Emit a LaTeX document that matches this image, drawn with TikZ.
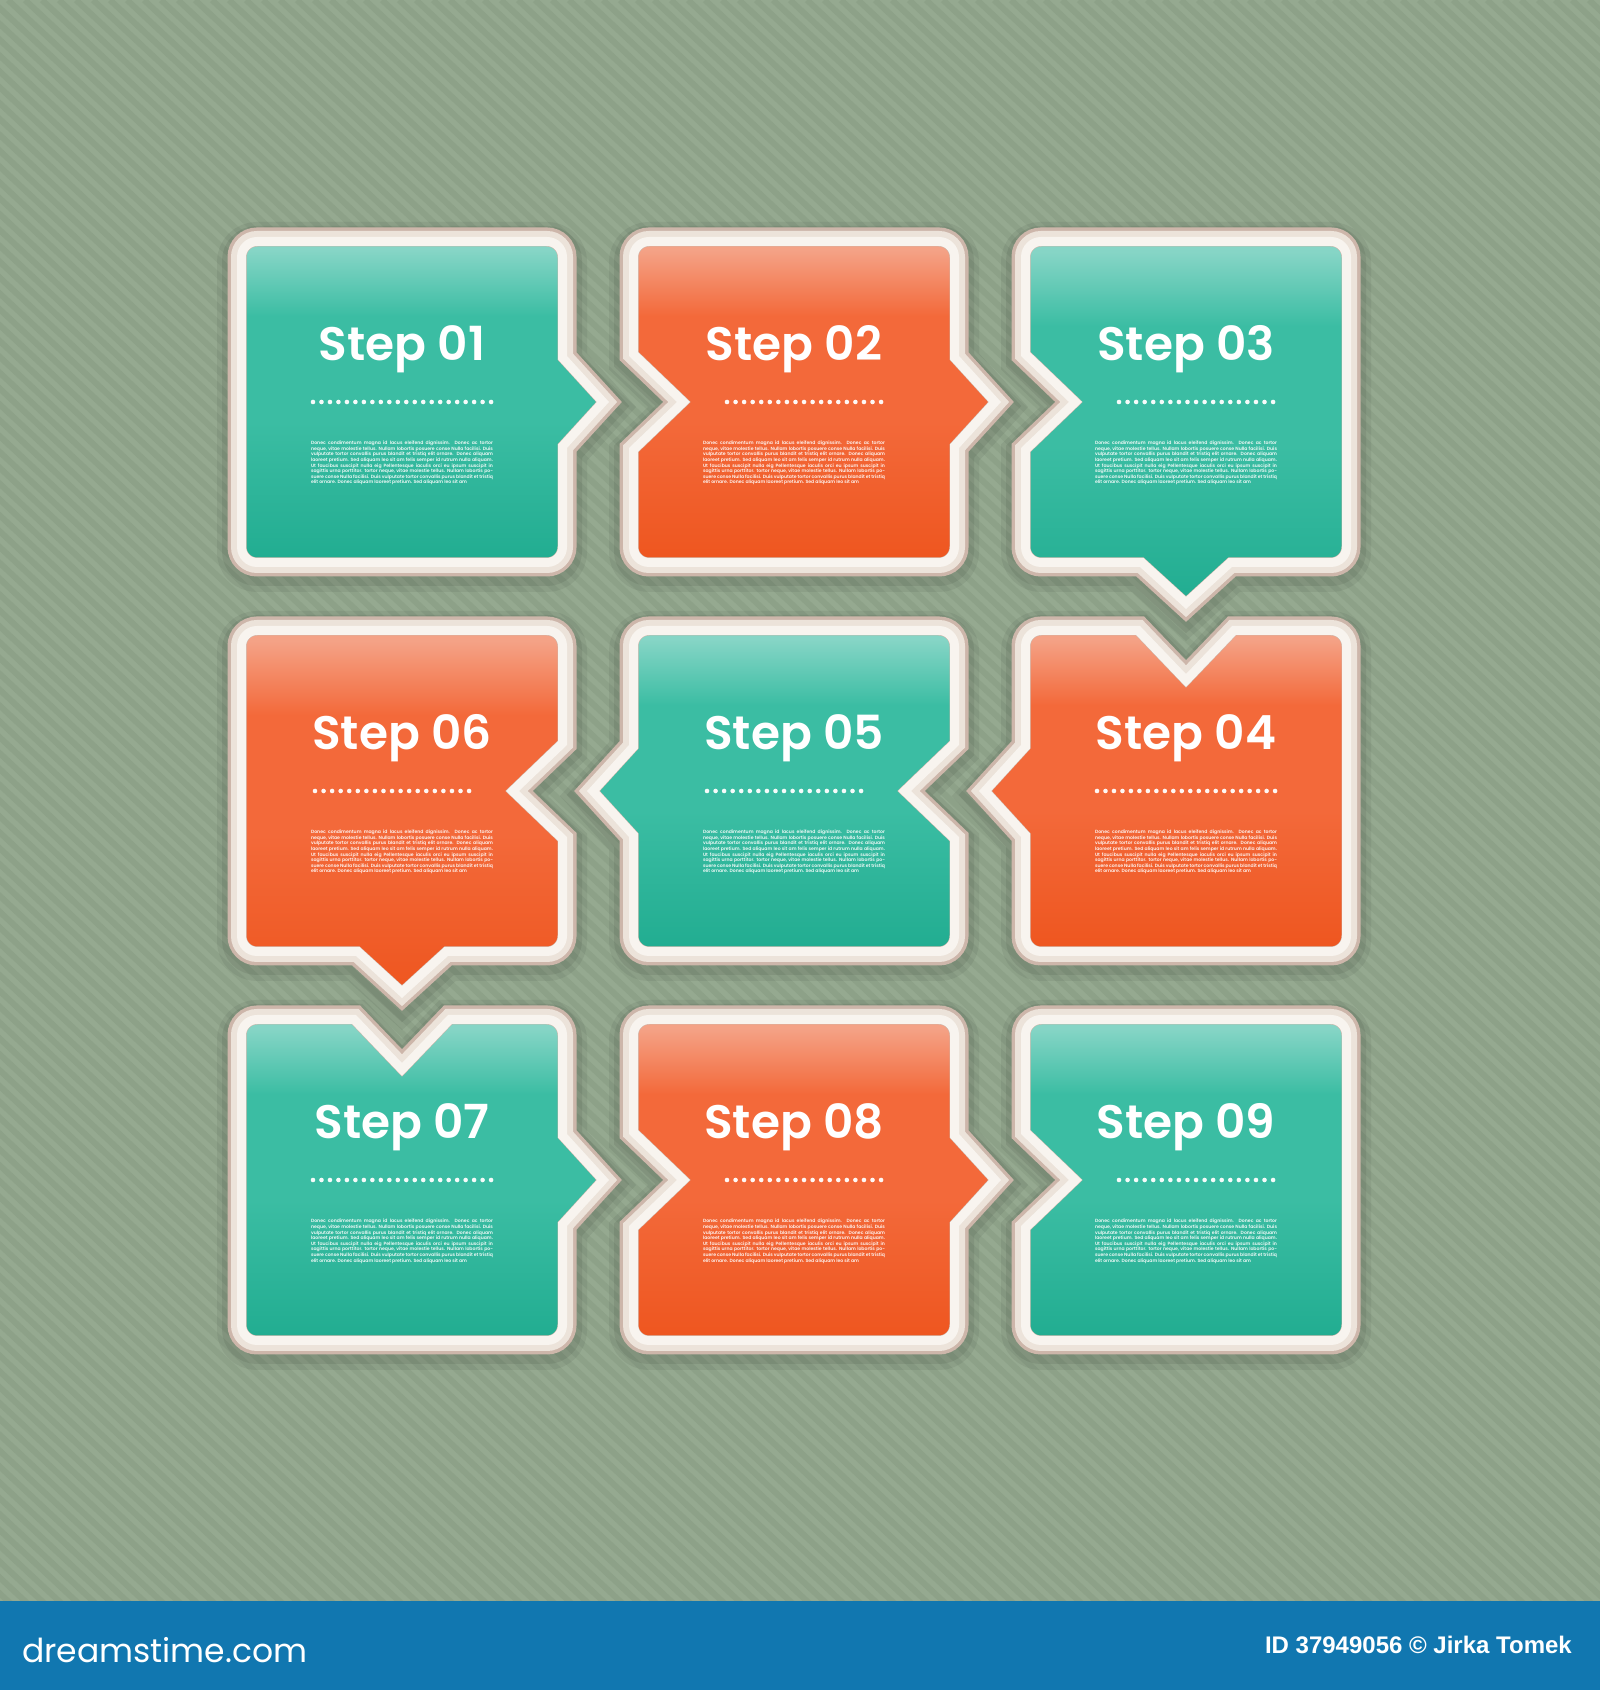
\documentclass[tikz,border=0pt]{standalone}
\usepackage{fontspec}
\setmainfont{Poppins}
\newfontfamily\titlefont{Poppins SemiBold}
\newfontfamily\creditfont{Liberation Sans}
\definecolor{bgc}{HTML}{95A990}
\definecolor{stripec}{HTML}{8B9F86}
\definecolor{tealA}{HTML}{86D5C6}
\definecolor{tealB}{HTML}{3BBDA3}
\definecolor{tealC}{HTML}{20AC90}
\definecolor{orangeA}{HTML}{F4A286}
\definecolor{orangeB}{HTML}{F3693A}
\definecolor{orangeC}{HTML}{EE551E}
\definecolor{ringout}{HTML}{CDB6AA}
\definecolor{ringmid}{HTML}{ECE3DA}
\definecolor{ringin}{HTML}{F8F4EF}
\definecolor{barc}{HTML}{1177B0}
\pgfdeclareverticalshading{tealtile}{100bp}{color(0bp)=(tealC); color(25bp)=(tealC); color(47bp)=(tealB); color(63bp)=(tealB); color(73bp)=(tealA); color(100bp)=(tealA)}
\pgfdeclareverticalshading{orangetile}{100bp}{color(0bp)=(orangeC); color(25bp)=(orangeC); color(47bp)=(orangeB); color(63bp)=(orangeB); color(73bp)=(orangeA); color(100bp)=(orangeA)}
\newcommand\tileA{165}
\newcommand\tileH{46}
\newcommand\tileR{20}
% outline of one tile: centre, then top/right/bottom/left offsets (+ tab, - notch)
\newcommand\tilepath[6]{({#1-\tileA+\tileR},{#2+\tileA}) -- ({#1-\tileH},{#2+\tileA}) -- ({#1},{#2+\tileA+(#3)}) -- ({#1+\tileH},{#2+\tileA}) -- ({#1+\tileA-\tileR},{#2+\tileA}) arc (90:0:\tileR) -- ({#1+\tileA},{#2+\tileH}) -- ({#1+\tileA+(#4)},{#2}) -- ({#1+\tileA},{#2-\tileH}) -- ({#1+\tileA},{#2-\tileA+\tileR}) arc (0:-90:\tileR) -- ({#1+\tileH},{#2-\tileA}) -- ({#1},{#2-\tileA-(#5)}) -- ({#1-\tileH},{#2-\tileA}) -- ({#1-\tileA+\tileR},{#2-\tileA}) arc (-90:-180:\tileR) -- ({#1-\tileA},{#2-\tileH}) -- ({#1-\tileA-(#6)},{#2}) -- ({#1-\tileA},{#2+\tileH}) -- ({#1-\tileA},{#2+\tileA-\tileR}) arc (180:90:\tileR) -- cycle}
\newcommand\lorem{Donec condimentum magna id lacus eleifend dignissim. Donec ac tortor neque, vitae molestie tellus. Nullam lobortis posuere conse Nulla facilisi. Duis vulputate tortor convallis purus blandit et tristiq elit ornare. Donec aliquam laoreet pretium. Sed aliquam leo sit am felis semper id rutrum nulla aliquam. Ut faucibus suscipit nulla eig Pellentesque iaculis orci eu ipsum suscipit in sagittis urna porttitor. tortor neque, vitae molestie tellus. Nullam lobortis posuere conse Nulla facilisi. Duis vulputate tortor convallis purus blandit et tristiq elit ornare. Donec aliquam laoreet pretium. Sed aliquam leo sit am}
\tikzset{
  stripe/.style={draw=stripec, line width=6pt, opacity=.8},
  tileshadow/.style={draw=black, opacity=.06, line width=40pt, line join=miter},
  tileshadow2/.style={draw=black, opacity=.07, line width=30pt, line join=miter},
  ringouter/.style={draw=ringout, line width=19pt, line join=miter},
  ringmiddle/.style={draw=ringmid, line width=12pt, line join=miter},
  ringinner/.style={draw=ringin, line width=18pt, line join=miter},
  steptitle/.style={text=white, font=\titlefont\fontsize{47}{50}\selectfont, inner sep=0pt, anchor=base},
  stepdot/.style={fill=white, opacity=.95},
  steptext/.style={text=white, opacity=.92, text width=182pt, align=justify, inner sep=0pt, anchor=north, font=\titlefont\fontsize{4.6}{5.6}\selectfont},
  bartext/.style={text=white, inner sep=0pt}
}
% centre x, centre y, top, right, bottom, left, colour, number, dot shift
\newcommand\steptile[9]{%
  \draw[tileshadow] \tilepath{#1}{#2-5}{#3}{#4}{#5}{#6};
  \draw[tileshadow2] \tilepath{#1}{#2-4}{#3}{#4}{#5}{#6};
  \shade[shading=#7tile] \tilepath{#1}{#2}{#3}{#4}{#5}{#6};
  \draw[ringouter] \tilepath{#1}{#2}{#3}{#4}{#5}{#6};
  \draw[ringmiddle] \tilepath{#1}{#2}{#3}{#4}{#5}{#6};
  \begin{scope}
    \clip \tilepath{#1}{#2}{#3}{#4}{#5}{#6};
    \draw[ringinner] \tilepath{#1}{#2}{#3}{#4}{#5}{#6};
  \end{scope}
  \node[steptitle] (step#8) at (#1,#2+41) {Step #8};
  \ifnum#9=0
    \foreach \k in {0,...,21} \fill[stepdot] ({#1-89+\k*8.48},#2) circle (2.3);
  \else
    \foreach \k in {0,...,18} \fill[stepdot] ({#1+(#9)-77+\k*8.56},#2) circle (2.3);
  \fi
  \node[steptext] (text#8) at (#1,#2-39) {\lorem};
}
\begin{document}
\begin{tikzpicture}[x=1pt,y=1pt]
  \useasboundingbox (0,0) rectangle (1600,1690);
  \fill[bgc] (0,0) rectangle (1600,1690);
  \begin{scope}
    \clip (0,89) rectangle (1600,1690);
    \foreach \i in {0,...,230} \draw[stripe] ({-2100+\i*17},1690) -- ++(-43:3000);
  \end{scope}
  % row 1
  \steptile{402}{1288}{0}{42}{0}{0}{teal}{01}{0}
  \steptile{794}{1288}{0}{42}{0}{-48}{orange}{02}{10}
  \steptile{1186}{1288}{0}{0}{42}{-48}{teal}{03}{10}
  % row 2
  \steptile{1186}{899}{-48}{0}{0}{42}{orange}{04}{0}
  \steptile{794}{899}{0}{-48}{0}{42}{teal}{05}{-10}
  \steptile{402}{899}{0}{-48}{42}{0}{orange}{06}{-10}
  % row 3
  \steptile{402}{510}{-48}{42}{0}{0}{teal}{07}{0}
  \steptile{794}{510}{0}{42}{0}{-48}{orange}{08}{10}
  \steptile{1186}{510}{0}{0}{0}{-48}{teal}{09}{10}
  % bottom bar
  \fill[barc] (0,0) rectangle (1600,89);
  \node[bartext, anchor=west, font=\fontsize{33}{36}\selectfont] (site) at (22,40) {dreamstime.com};
  \node[bartext, anchor=east, font=\creditfont\bfseries\fontsize{24}{28}\selectfont] (credit) at (1572,45) {ID 37949056 © Jirka Tomek};
\end{tikzpicture}
\end{document}
